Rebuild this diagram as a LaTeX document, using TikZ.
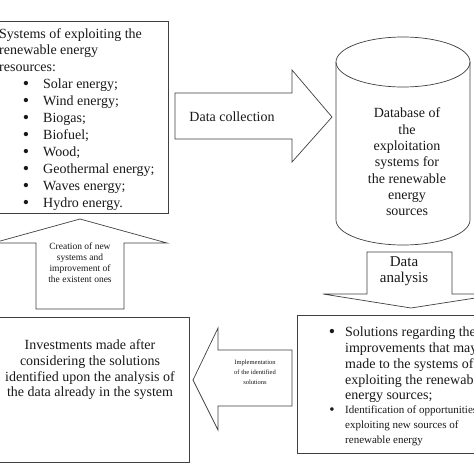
\documentclass[tikz,border=0pt]{standalone}
\usepackage{fontspec}
\setmainfont{Liberation Serif}
\begin{document}
\begin{tikzpicture}[x=1pt,y=-1pt,
  blk/.style={draw=black!75, line width=0.7pt, line join=miter},
  txt/.style={text=black!90, inner sep=0pt},
  big/.style={font=\fontsize{14}{16.8}\selectfont},
  lw/.style={txt, big, anchor=base west},
  bul/.style={txt, font=\fontsize{18}{18}\selectfont, anchor=base}]
\useasboundingbox (0,0) rectangle (474,474);
\fill[white] (0,0) rectangle (474,474);

% top-left box
\draw[blk] (-5,21) rectangle (168,213);
\node[lw] (s1) at (-1,38) {Systems of exploiting the};
\node[lw] (s2) at (-1,54.9) {renewable energy};
\node[lw] (s3) at (-1,71.8) {resources:};
\node[bul] (b1) at (26,89.7) {\textbullet};
\node[lw] (t1) at (43,88.7) {Solar energy;};
\node[bul] (b2) at (26,106.6) {\textbullet};
\node[lw] (t2) at (43,105.6) {Wind energy;};
\node[bul] (b3) at (26,123.5) {\textbullet};
\node[lw] (t3) at (43,122.5) {Biogas;};
\node[bul] (b4) at (26,140.4) {\textbullet};
\node[lw] (t4) at (43,139.4) {Biofuel;};
\node[bul] (b5) at (26,157.3) {\textbullet};
\node[lw] (t5) at (43,156.3) {Wood;};
\node[bul] (b6) at (26,174.2) {\textbullet};
\node[lw] (t6) at (43,173.2) {Geothermal energy;};
\node[bul] (b7) at (26,191.1) {\textbullet};
\node[lw] (t7) at (43,190.1) {Waves energy;};
\node[bul] (b8) at (26,208) {\textbullet};
\node[lw] (t8) at (43,207) {Hydro energy.};

% data collection arrow
\draw[blk] (175,93) -- (292,93) -- (292,70) -- (332,117) -- (292,162) -- (292,139) -- (175,139) -- cycle;
\node[txt,big] (dc) at (232,117) {Data collection};

% cylinder
\draw[blk] (336,62) -- (336,220) arc[start angle=180,end angle=360,x radius=67pt,y radius=25pt] -- (470,62);
\draw[blk] (403,62) ellipse [x radius=67pt, y radius=25pt];
\node[txt,font=\fontsize{14}{16.3}\selectfont,align=center] (db) at (407,162) {Database of\\the\\exploitation\\systems for\\the renewable\\energy\\sources};

% data analysis arrow
\draw[blk] (367,252) -- (452,252) -- (452,294) -- (501,294) -- (411,308) -- (323,294) -- (367,294) -- cycle;
\node[txt,font=\fontsize{15}{16.5}\selectfont,align=center] (da) at (404,271) {Data\\analysis};

% bottom-right box
\draw[blk] (297,315) rectangle (480,453);
\node[bul] (c1) at (332,337.5) {\textbullet};
\node[lw] (r1) at (345,336.5) {Solutions regarding the};
\node[lw] (r2) at (345,352.5) {improvements that may};
\node[lw] (r3) at (345,368) {made to the systems of};
\node[lw] (r4) at (345,384) {exploiting the renewable};
\node[lw] (r5) at (345,399.5) {energy sources;};
\node[txt,font=\fontsize{15}{15}\selectfont,anchor=base] (c2) at (332,414.5) {\textbullet};
\node[txt,font=\fontsize{11}{15}\selectfont,anchor=base west] (q1) at (345,413.5) {Identification of opportunities};
\node[txt,font=\fontsize{11}{15}\selectfont,anchor=base west] (q2) at (345,428.5) {exploiting new sources of};
\node[txt,font=\fontsize{11}{15}\selectfont,anchor=base west] (q3) at (345,443.5) {renewable energy};

% implementation arrow
\draw[blk] (193,380) -- (218,328) -- (218,350) -- (292,350) -- (292,406) -- (218,406) -- (218,430) -- cycle;
\node[txt,font=\fontsize{6.5}{10}\selectfont,align=center] (im) at (255,372) {Implementation\\of the identified\\solutions};

% bottom-left box
\draw[blk] (-5,317) rectangle (189,462);
\node[txt,font=\fontsize{14}{15.7}\selectfont,align=center] (inv) at (90,370) {Investments made after\\considering the solutions\\identified upon the analysis of\\the data already in the system};

% creation arrow
\draw[blk] (36,309) -- (36,243) -- (-7,243) -- (80,219) -- (167,243) -- (124,243) -- (124,309) -- cycle;
\node[txt,font=\fontsize{9.5}{11}\selectfont,align=center] (cr) at (80,263) {Creation of new\\systems and\\improvement of\\the existent ones};
\end{tikzpicture}
\end{document}
